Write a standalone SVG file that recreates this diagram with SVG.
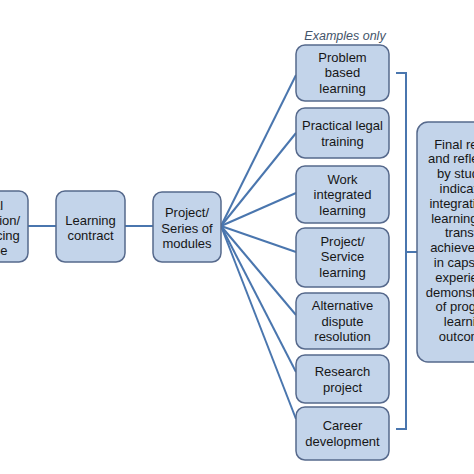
<svg xmlns="http://www.w3.org/2000/svg" width="474" height="474" viewBox="0 0 474 474">
<defs>
<style>
.box{fill:#C3D4EA;stroke:#56698C;stroke-width:1.5}
.t{font-family:"Liberation Sans",Arial,sans-serif;font-size:13px;fill:#161616;text-anchor:middle;dominant-baseline:central}
.ex{font-family:"Liberation Sans",Arial,sans-serif;font-size:12.5px;font-style:italic;fill:#44546A;text-anchor:middle;dominant-baseline:central}
.ln{stroke:#4A76AE;stroke-width:2;fill:none}
</style>
</defs>
<rect width="474" height="474" fill="#FFFFFF"/>
<g id="connectors">
<line class="ln" x1="28" y1="226" x2="56" y2="226"/>
<line class="ln" x1="125" y1="226" x2="153" y2="226"/>
<line class="ln" x1="221" y1="226" x2="296" y2="75"/>
<line class="ln" x1="221" y1="226" x2="296" y2="133"/>
<line class="ln" x1="221" y1="226" x2="296" y2="193"/>
<line class="ln" x1="221" y1="226" x2="296" y2="252"/>
<line class="ln" x1="221" y1="226" x2="296" y2="315"/>
<line class="ln" x1="221" y1="226" x2="296" y2="372"/>
<line class="ln" x1="221" y1="226" x2="296" y2="419"/>
<path class="ln" d="M396 73 H406 V429 H396 M406 252 H417"/>
</g>
<g id="n-intro">
<rect class="box" x="-44" y="191" width="72" height="71" rx="9"/>
<text class="t" x="-12" y="205">Initial</text>
<text class="t" x="-12" y="220">orientation/</text>
<text class="t" x="-12" y="235">introducing</text>
<text class="t" x="-12" y="250">course</text>
</g>
<g id="n-contract">
<rect class="box" x="56" y="191" width="69" height="71" rx="9"/>
<text class="t" x="90.5" y="220">Learning</text>
<text class="t" x="90.5" y="235">contract</text>
</g>
<g id="n-project">
<rect class="box" x="153" y="192" width="68" height="70" rx="9"/>
<text class="t" x="187" y="212">Project/</text>
<text class="t" x="187" y="228">Series of</text>
<text class="t" x="187" y="243">modules</text>
</g>
<text class="ex" x="345" y="36">Examples only</text>
<g id="n-pbl">
<rect class="box" x="296" y="45" width="93" height="56" rx="9"/>
<text class="t" x="342.5" y="57">Problem</text>
<text class="t" x="342.5" y="72.5">based</text>
<text class="t" x="342.5" y="88">learning</text>
</g>
<g id="n-plt">
<rect class="box" x="296" y="108" width="93" height="50" rx="9"/>
<text class="t" x="342.5" y="125">Practical legal</text>
<text class="t" x="342.5" y="141">training</text>
</g>
<g id="n-wil">
<rect class="box" x="296" y="166" width="93" height="57" rx="9"/>
<text class="t" x="342.5" y="179">Work</text>
<text class="t" x="342.5" y="194.5">integrated</text>
<text class="t" x="342.5" y="210">learning</text>
</g>
<g id="n-psl">
<rect class="box" x="296" y="228" width="93" height="59" rx="9"/>
<text class="t" x="342.5" y="241">Project/</text>
<text class="t" x="342.5" y="256.5">Service</text>
<text class="t" x="342.5" y="272">learning</text>
</g>
<g id="n-adr">
<rect class="box" x="296" y="293" width="93" height="56" rx="9"/>
<text class="t" x="342.5" y="305.5">Alternative</text>
<text class="t" x="342.5" y="321">dispute</text>
<text class="t" x="342.5" y="336.5">resolution</text>
</g>
<g id="n-research">
<rect class="box" x="296" y="355" width="93" height="48" rx="9"/>
<text class="t" x="342.5" y="371">Research</text>
<text class="t" x="342.5" y="387">project</text>
</g>
<g id="n-career">
<rect class="box" x="296" y="407" width="93" height="53" rx="9"/>
<text class="t" x="342.5" y="425">Career</text>
<text class="t" x="342.5" y="441">development</text>
</g>
<g id="n-final">
<rect class="box" x="417" y="122" width="100" height="240" rx="11"/>
<text class="t" x="467" y="144">Final report</text>
<text class="t" x="467" y="158.8">and reflection</text>
<text class="t" x="467" y="173.6">by student</text>
<text class="t" x="467" y="188.4">indicating</text>
<text class="t" x="467" y="203.2">integration of</text>
<text class="t" x="467" y="218">learning and</text>
<text class="t" x="467" y="232.8">transfer</text>
<text class="t" x="467" y="247.6">achievement</text>
<text class="t" x="467" y="262.4">in capstone</text>
<text class="t" x="467" y="277.2">experience</text>
<text class="t" x="467" y="292">demonstration</text>
<text class="t" x="467" y="306.8">of program</text>
<text class="t" x="467" y="321.6">learning</text>
<text class="t" x="467" y="336.4">outcomes</text>
</g>
</svg>
